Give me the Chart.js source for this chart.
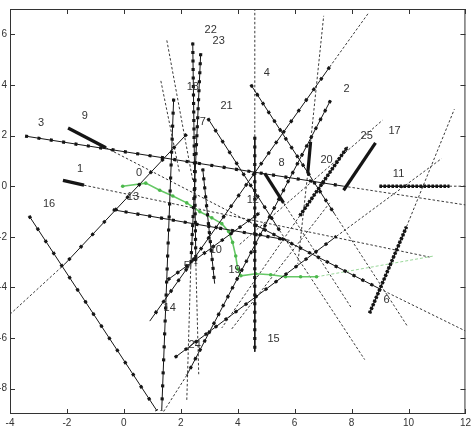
<!DOCTYPE html>
<html><head><meta charset="utf-8">
<script src="https://cdn.jsdelivr.net/npm/chart.js@4.4.0/dist/chart.umd.min.js"></script>
<style>html,body{margin:0;padding:0;background:#fff;}canvas{display:block;}</style>
</head><body>
<canvas id="c" width="474" height="428"></canvas>
<script>
// ---------------- data ----------------
const xTicks = [-4, -2, 0, 2, 4, 6, 8, 10, 12];
const yTicks = [-8, -6, -4, -2, 0, 2, 4, 6];

// solid tracks with markers: [x0, y0, x1, y1]
const trackSolid = [
  [-3.47, 1.98, 7.72, 0.00],
  [-3.33, -1.17, 1.16, -8.87],
  [7.26, 3.39, 2.21, -7.47],
  [7.23, 4.71, 0.91, -5.33],
  [4.46, 4.01, 7.40, -1.09],
  [2.95, 2.68, 5.47, -1.75],
  [4.60, 1.95, 4.60, -6.54],
  [2.42, 5.68, 2.53, -3.07],
  [2.70, 5.25, 2.35, -3.19],
  [1.75, 3.46, 1.33, -8.87],
  [2.21, 2.06, -2.07, -3.07],
  [2.77, 0.70, 3.19, -3.85],
  [-0.39, -0.93, 5.82, -2.14],
  [1.54, -3.70, 4.77, -1.05],
  [1.79, -6.77, 7.47, -1.98],
  [4.60, -1.52, 8.98, -4.05]
];
// short heavy tracks
const trackThick = [
  [-1.96, 2.30, -0.63, 1.52],
  [-2.14, 0.23, -1.40, 0.04],
  [4.95, 0.51, 5.61, -0.66],
  [7.72, -0.16, 8.84, 1.71],
  [6.56, 1.75, 6.46, 0.51]
];
// densely sampled tracks
const trackDense = [
  [8.98, 0.00, 11.44, 0.00],
  [8.63, -5.02, 9.93, -1.60],
  [6.18, -1.17, 7.86, 1.56]
];
// dashed extrapolations
const trackDashed = [
  [7.72, 0.00, 12.0, -0.74],
  [2.21, -7.47, 1.37, -8.95],
  [7.23, 4.71, 8.60, 6.85],
  [7.40, -1.09, 9.96, -5.53],
  [5.47, -1.75, 8.46, -6.85],
  [4.60, 1.95, 4.60, 7.0],
  [2.53, -3.07, 2.63, -7.43],
  [2.35, -3.19, 2.21, -8.48],
  [-2.07, -3.07, -4.0, -5.06],
  [7.47, -1.98, 11.16, 1.09],
  [8.98, -4.05, 12.0, -5.72],
  [-0.63, 1.52, 4.60, -1.52],
  [-1.40, 0.04, 10.74, -2.80],
  [5.61, -0.66, 8.0, -4.82],
  [11.44, 0.00, 12.0, 0.00],
  [9.93, -1.60, 11.61, 3.04],
  [6.18, -1.17, 3.44, -5.60],
  [6.56, 1.75, 7.02, 6.73],
  [6.46, 0.51, 6.11, -3.07],
  [1.51, 5.76, 2.42, 0.23],
  [1.30, 4.16, 1.96, 0.51],
  [4.07, -2.30, 9.09, 2.61],
  [3.79, -5.64, 7.23, -0.66]
];
// green track
const greenX = [-0.04, 0.77, 1.26, 1.72, 2.21, 2.67, 3.09, 3.44, 3.68, 3.82, 3.93, 4.00, 4.11, 4.63, 5.16, 5.68, 6.21, 6.77];
const greenY = [0.00, 0.12, -0.16, -0.39, -0.66, -1.01, -1.25, -1.48, -1.79, -2.22, -2.76, -3.27, -3.54, -3.46, -3.50, -3.58, -3.58, -3.58];
const greenDashX = [6.77, 10.88];
const greenDashY = [-3.58, -2.76];
// track labels
const labelText = ['0','1','2','3','4','5','6','7','8','9','10','11','12','13','14','15','16','17','18','19','20','21','22','23','24','25'];
const labelX = [0.53, -1.54, 7.82, -2.91, 5.02, 2.21, 9.23, 2.77, 5.54, -1.37, 3.23, 9.65, 4.53, 0.32, 1.61, 5.26, -2.63, 9.51, 2.42, 3.89, 7.12, 3.61, 3.05, 3.33, 2.49, 8.53];
const labelY = [0.51, 0.70, 3.85, 2.49, 4.47, -3.15, -4.51, 2.53, 0.93, 2.76, -2.53, 0.47, -0.54, -0.43, -4.82, -6.03, -0.70, 2.18, 3.93, -3.31, 1.05, 3.15, 6.19, 5.72, -6.26, 1.98];

// ---------------- style ----------------
const markerGap = [9.5, 11.5, 7, 10, 7.5, 10, 5.7, 5.5, 6, 10, 14, 6, 9, 8, 9.5, 7];
const FONT = '"Liberation Sans", Arial, sans-serif';
const INK = '#151515';

const pts = s => [{x: s[0], y: s[1]}, {x: s[2], y: s[3]}];
const base = {type: 'line', pointRadius: 0, fill: false, tension: 0, clip: 0, borderCapStyle: 'butt'};
const datasets = [];

trackSolid.forEach((s, i) => {
  datasets.push(Object.assign({}, base, {data: pts(s), borderColor: INK, borderWidth: 3.2, borderDash: [3, markerGap[i]]}));
  datasets.push(Object.assign({}, base, {data: pts(s), borderColor: INK, borderWidth: 1}));
});
trackDense.forEach(s => {
  datasets.push(Object.assign({}, base, {data: pts(s), borderColor: INK, borderWidth: 3.6, borderDash: [2.5, 1.5]}));
  datasets.push(Object.assign({}, base, {data: pts(s), borderColor: INK, borderWidth: 1.5}));
});
trackThick.forEach(s => {
  datasets.push(Object.assign({}, base, {data: pts(s), borderColor: INK, borderWidth: 3.2}));
});
datasets.push(Object.assign({}, base, {
  data: greenX.map((v, i) => ({x: v, y: greenY[i]})),
  borderColor: '#66c866', borderWidth: 1.6, pointRadius: 1.8,
  pointBackgroundColor: '#4cb84c', pointBorderWidth: 0
}));
datasets.push(Object.assign({}, base, {
  data: greenDashX.map((v, i) => ({x: v, y: greenDashY[i]})),
  borderColor: '#9ad89a', borderWidth: 1, borderDash: [3, 2]
}));
trackDashed.forEach(s => {
  datasets.push(Object.assign({}, base, {data: pts(s), borderColor: '#3a3a3a', borderWidth: 1, borderDash: [2.5, 2]}));
});

const overlay = {
  id: 'overlay',
  afterDatasetsDraw(chart) {
    const {ctx, chartArea: a, scales: {x, y}} = chart;
    ctx.save();
    ctx.strokeStyle = '#333';
    ctx.lineWidth = 1;
    ctx.strokeRect(a.left + 0.5, a.top + 0.5, a.right - a.left - 1, a.bottom - a.top - 1);
    ctx.beginPath();
    xTicks.forEach(v => {
      const p = Math.round(x.getPixelForValue(v)) + 0.5;
      ctx.moveTo(p, a.bottom); ctx.lineTo(p, a.bottom - 5);
      ctx.moveTo(p, a.top); ctx.lineTo(p, a.top + 5);
    });
    yTicks.forEach(v => {
      const p = Math.round(y.getPixelForValue(v)) + 0.5;
      ctx.moveTo(a.left, p); ctx.lineTo(a.left + 5, p);
      ctx.moveTo(a.right, p); ctx.lineTo(a.right - 5, p);
    });
    ctx.stroke();
    ctx.fillStyle = '#333';
    ctx.font = '11px ' + FONT;
    ctx.textAlign = 'center';
    ctx.textBaseline = 'middle';
    labelText.forEach((t, i) => ctx.fillText(t, x.getPixelForValue(labelX[i]), y.getPixelForValue(labelY[i])));
    ctx.restore();
  }
};

const bg = {
  id: 'bg',
  beforeDraw(chart) {
    const c = chart.ctx; c.save(); c.fillStyle = '#fff'; c.fillRect(0, 0, chart.width, chart.height); c.restore();
  }
};

new Chart(document.getElementById('c'), {
  type: 'line',
  data: {datasets},
  options: {
    responsive: false,
    animation: false,
    devicePixelRatio: 1,
    layout: {padding: {top: 5, right: 8, left: 0, bottom: 0}},
    plugins: {legend: {display: false}, tooltip: {enabled: false}},
    scales: {
      x: {
        type: 'linear', min: -4, max: 12,
        afterBuildTicks: s => { s.ticks = xTicks.map(v => ({value: v})); },
        afterFit: s => { s.height = 14; },
        grid: {display: false, drawTicks: false},
        border: {display: false},
        ticks: {padding: 3, color: '#333', font: {size: 10, family: FONT}, maxRotation: 0, autoSkip: false}
      },
      y: {
        type: 'linear', min: -9, max: 7,
        afterBuildTicks: s => { s.ticks = yTicks.map(v => ({value: v})); },
        afterFit: s => { s.width = 10; },
        grid: {display: false, drawTicks: false},
        border: {display: false},
        ticks: {padding: 3, color: '#333', font: {size: 10, family: FONT}, autoSkip: false}
      }
    }
  },
  plugins: [bg, overlay]
});
</script>
</body></html>
